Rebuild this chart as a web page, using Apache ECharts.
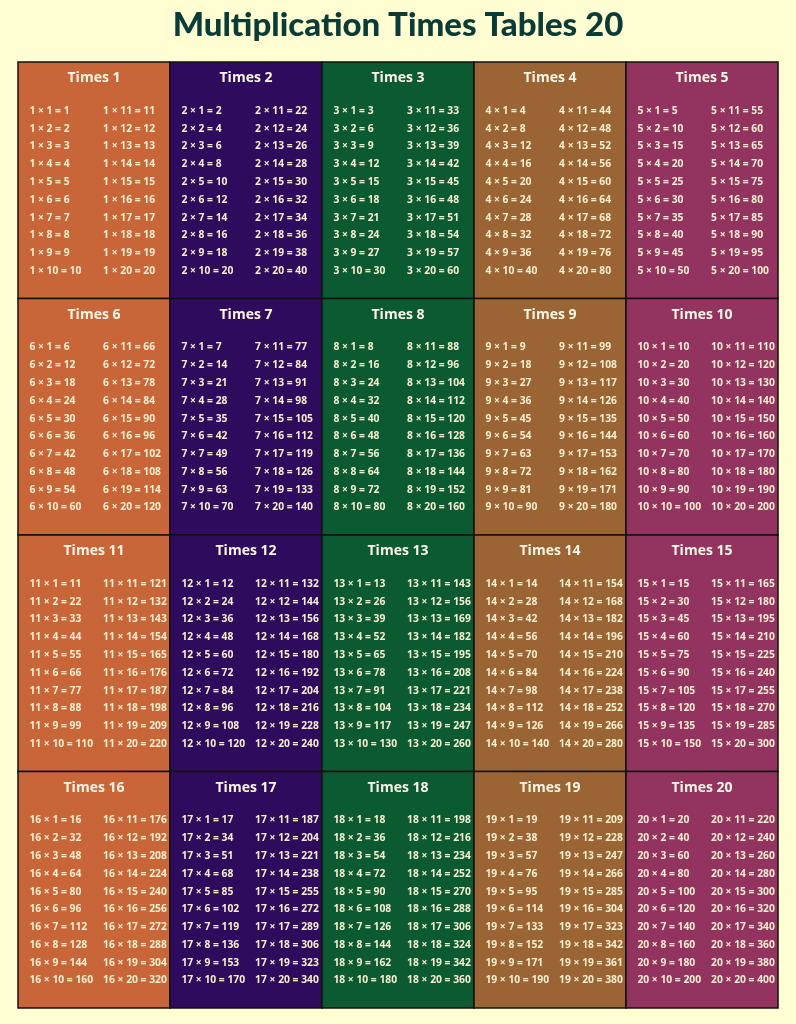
<!DOCTYPE html>
<html><head><meta charset="utf-8">
<script src="https://cdn.jsdelivr.net/npm/echarts@6/dist/echarts.min.js"></script>
<style>html,body{margin:0;background:#fffdd2}#c{width:796px;height:1024px}</style></head>
<body><div id="c"></div>
<script>
const tables = [1,2,3,4,5,6,7,8,9,10,11,12,13,14,15,16,17,18,19,20];
const multipliers = [1,2,3,4,5,6,7,8,9,10,11,12,13,14,15,16,17,18,19,20];
const columnColors = ['#c8663a','#2e0b5c','#0b5a32','#9a6434','#93335f'];
const titleText = 'Multiplication Times Tables 20';

const chart = echarts.init(document.getElementById('c'));
const data = tables.map((t,i)=>[i%5, Math.floor(i/5), t]);
chart.setOption({
  backgroundColor:'#fffdd2',
  title:{text:titleText,left:'center',top:4,textStyle:{fontFamily:'Lato',fontWeight:900,fontSize:33,color:'#0b3b37'}},
  grid:{left:18,right:18,top:62,bottom:16},
  xAxis:{type:'value',min:0,max:5,show:false},
  yAxis:{type:'value',min:0,max:4,inverse:true,show:false},
  series:[{
    type:'custom',
    data:data,
    renderItem:function(params,api){
      const c=api.value(0), r=api.value(1), t=api.value(2);
      const p0=api.coord([c,r]), p1=api.coord([c+1,r+1]);
      const w=p1[0]-p0[0], h=p1[1]-p0[1];
      const ch=[{type:'rect',shape:{x:p0[0],y:p0[1],width:w,height:h},
        style:{fill:columnColors[c],stroke:'#111',lineWidth:1.5}},
        {type:'text',style:{text:'Times '+t,x:p0[0]+w/2,y:p0[1]+h*0.068,align:'center',verticalAlign:'middle',
          fill:'#fbf6e4',font:'bold 14px "Open Sans"'}}];
      multipliers.forEach((m,i)=>{
        const col=i<10?0:1, row=i%10;
        ch.push({type:'text',style:{text:t+' × '+m+' = '+(t*m),
          x:p0[0]+w*(col?0.56:0.075), y:p0[1]+h*0.207+row*h*0.0752,
          verticalAlign:'middle',fill:'#f6efcf',font:'bold 10.3px "Open Sans"'}});
      });
      return {type:'group',children:ch};
    }
  }]
});
</script></body></html>
